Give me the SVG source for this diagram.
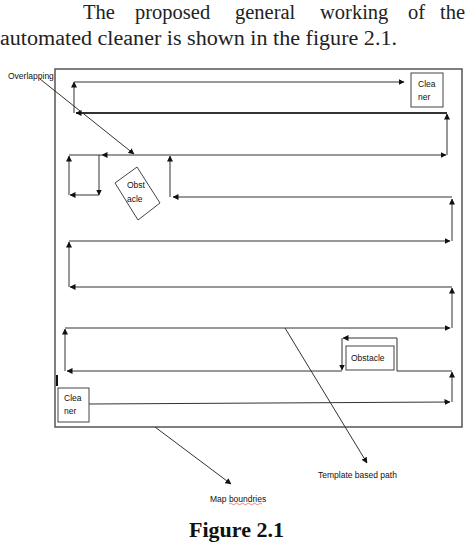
<svg xmlns="http://www.w3.org/2000/svg" width="474" height="543" viewBox="0 0 474 543">
<style>
.body{font-family:"Liberation Serif","Times New Roman",serif;font-size:20.5px;fill:#222}
.cap{font-family:"Liberation Serif","Times New Roman",serif;font-size:22px;font-weight:bold;fill:#111}
.lbl{font-family:"Liberation Sans",Arial,sans-serif;font-size:8.5px;fill:#111}
.p{fill:none;stroke:#333;stroke-width:1;marker-end:url(#ah)}
.q{fill:none;stroke:#333;stroke-width:1}
.box{fill:#fff;stroke:#444;stroke-width:1}
</style>
<defs>
<marker id="ah" viewBox="0 0 6 6" refX="5.5" refY="3" markerWidth="6" markerHeight="6" markerUnits="userSpaceOnUse" orient="auto">
<path d="M0,0 L6,3 L0,6 z" fill="#111"/>
</marker>
</defs>
<rect width="474" height="543" fill="#fff"/>
<g id="intro">
<text class="body" x="83" y="19">The</text>
<text class="body" x="135" y="19">proposed</text>
<text class="body" x="235" y="19">general</text>
<text class="body" x="320" y="19">working</text>
<text class="body" x="408" y="19">of</text>
<text class="body" x="440" y="19">the</text>
<text class="body" x="0" y="45" textLength="397" lengthAdjust="spacingAndGlyphs">automated cleaner is shown in the figure 2.1.</text>
</g>
<g id="map-boundary">
<rect x="55" y="69" width="407" height="358" fill="none" stroke="#555" stroke-width="1.5"/>
<line x1="57" y1="375" x2="57" y2="386" stroke="#111" stroke-width="2"/>
</g>
<g id="connectors">
<path class="p" d="M74,113 V82"/>
<path class="p" d="M74,82 H404"/>
<path class="p" d="M447,113 H76" style="stroke-width:1.8"/>
<path class="p" d="M447,155 V114"/>
<path class="p" d="M170,155 H446"/>
<path class="p" d="M170,155 H102"/>
<path class="q" d="M102,155 H69"/>
<path class="p" d="M99,155 V195"/>
<path class="p" d="M99,195 H70"/>
<path class="p" d="M69,195 V156"/>
<path class="p" d="M170,197 V156"/>
<path class="p" d="M452,197 H173"/>
<path class="p" d="M452,241 V199"/>
<path class="p" d="M69,241 H450"/>
<path class="p" d="M69,287 V242"/>
<path class="p" d="M452,287 H70"/>
<path class="p" d="M452,328 V288"/>
<path class="p" d="M65,328 H450"/>
<path class="p" d="M65,371 V329"/>
<path class="p" d="M342,371 H67"/>
<path class="p" d="M397,371 V338 H343"/>
<path class="p" d="M342,338 V370"/>
<path class="q" d="M397,371 H452"/>
<path class="p" d="M452,402 V372"/>
<path class="p" d="M89,404 L450,402"/>
<path class="p" d="M40,79 L134,154"/>
<path class="p" d="M285,328 L367,463"/>
<path class="p" d="M155,427 L231,484"/>
</g>
<g id="cleaner-top">
<rect class="box" x="411" y="73" width="32" height="34"/>
<text class="lbl" x="418" y="87">Clea</text>
<text class="lbl" x="418" y="100">ner</text>
</g>
<g id="cleaner-bottom">
<rect class="box" x="58" y="388" width="31" height="34"/>
<text class="lbl" x="64" y="401">Clea</text>
<text class="lbl" x="64" y="414">ner</text>
</g>
<g id="obstacle-rotated">
<polygon class="box" points="137,167 160,203 138,220 115,183"/>
<text class="lbl" x="127" y="188">Obst</text>
<text class="lbl" x="127" y="202">acle</text>
</g>
<g id="obstacle">
<rect class="box" x="346" y="346" width="48" height="24"/>
<text class="lbl" x="351" y="361">Obstacle</text>
</g>
<g id="labels">
<text class="lbl" x="8" y="79">Overlapping</text>
<text class="lbl" x="318" y="478">Template  based path</text>
<text class="lbl" x="210" y="502">Map boundries</text>
<path d="M229,504 q1.5,-1.5 3,0 t3,0 t3,0 t3,0 t3,0 t3,0 t3,0 t3,0 t3,0 t3,0 t3,0" fill="none" stroke="#d33" stroke-width="0.6"/>
<text class="cap" x="189" y="537">Figure 2.1</text>
</g>
</svg>
